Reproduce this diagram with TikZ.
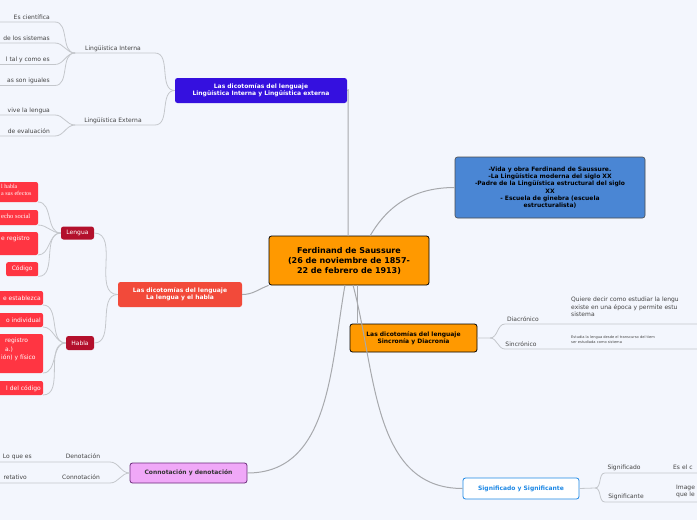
\documentclass[tikz,border=0pt]{standalone}
\usepackage{fontspec}
\setmainfont{DejaVu Sans}
\newfontfamily\serifsmall{Liberation Serif}
\definecolor{bg}{HTML}{F3F6FD}
\definecolor{ln}{HTML}{C4C7CC}
\definecolor{bluebox}{HTML}{3510DF}
\definecolor{redbox}{HTML}{F24A3A}
\definecolor{darkred}{HTML}{B3102C}
\definecolor{leafred}{HTML}{FF3542}
\definecolor{orangebox}{HTML}{FF9900}
\definecolor{skybox}{HTML}{4A86D4}
\definecolor{pinkbox}{HTML}{F0A8F8}
\definecolor{purpleln}{HTML}{6A2A7A}
\definecolor{sigblue}{HTML}{1E88E5}
\definecolor{txt}{HTML}{444444}
\begin{document}
\begin{tikzpicture}[x=1pt,y=-1pt,
  conn/.style={draw=ln,line width=0.8pt},
  mainconn/.style={draw=ln!85!black,line width=1pt},
  topicbox/.style={rounded corners=2.5pt,font=\bfseries\fontsize{6}{7}\selectfont,align=center,inner sep=0pt},
  branch/.style={font=\fontsize{6}{7}\selectfont,text=txt,inner sep=1pt,anchor=base},
  leafr/.style={font=\fontsize{6}{7}\selectfont,text=txt,inner sep=1pt,anchor=base east},
  redleaf/.style={fill=leafred,rounded corners=2pt,text=white,font=\fontsize{6}{7.5}\selectfont,inner sep=0pt,anchor=north west}
]
\useasboundingbox (0,0) rectangle (697,520);
\clip (0,0) rectangle (697,520);
\fill[bg] (0,0) rectangle (697,520);

% central
\node[topicbox,fill=orangebox,draw=black,line width=0.8pt,minimum width=160pt,minimum height=49pt,font=\bfseries\fontsize{8}{10}\selectfont] (c) at (349,260.5) {Ferdinand de Saussure\\(26 de noviembre de 1857-\\22 de febrero de 1913)};

% top-left blue
\node[topicbox,fill=bluebox,text=white,minimum width=172pt,minimum height=25pt] (t1) at (261,90.5) {Las dicotomías del lenguaje\\Lingüística Interna y Lingüística externa};
\draw[mainconn] (t1.east) -- (348,90) -- (348,236);

% Lingüística interna
\node[branch] (li) at (113,50.5) {Lingüística Interna};
\draw[conn] (75,53) -- (155,53) to[out=0,in=180] (t1.west);
\node[leafr] (l1) at (51,19) {Es científica};
\node[leafr] (l2) at (51,40) {de los sistemas};
\node[leafr] (l3) at (51,61.5) {l tal y como es};
\node[leafr] (l4) at (51,82.5) {as son iguales};
\foreach \y in {22,43,64.5,85.5}{\draw[conn] (0,\y) -- (55,\y) to[out=0,in=180] (75,53);}
% Lingüística externa
\node[branch] (le) at (113,122.5) {Lingüística Externa};
\draw[conn] (75,125) -- (155,125) to[out=0,in=180] (t1.west);
\node[leafr] (e1) at (51,112) {vive la lengua};
\node[leafr] (e2) at (51,133) {de evaluación};
\foreach \y in {115,136}{\draw[conn] (0,\y) -- (55,\y) to[out=0,in=180] (75,125);}

% red topic
\node[topicbox,fill=redbox,text=white,minimum width=124pt,minimum height=25pt] (t2) at (180,294.5) {Las dicotomías del lenguaje\\La lengua y el habla};
\draw[mainconn] (t2.east) to[out=0,in=200] (c.south west);
\node[topicbox,fill=darkred,text=white,font=\fontsize{6}{7}\selectfont,minimum width=33pt,minimum height=13pt] (lg) at (77.5,233) {Lengua};
\node[topicbox,fill=darkred,text=white,font=\fontsize{6}{7}\selectfont,minimum width=28pt,minimum height=14pt] (hb) at (80,343) {Habla};
\draw[conn] (lg.east) to[out=0,in=180] (t2.west);
\draw[conn] (hb.east) to[out=0,in=180] (t2.west);
\fill[leafred,rounded corners=2pt] (-5,182) rectangle (38,202);
\fill[leafred,rounded corners=2pt] (-5,210) rectangle (38,225);
\fill[leafred,rounded corners=2pt] (-5,232) rectangle (38,255);
\node[redleaf,minimum width=32pt,minimum height=14pt] (r4) at (6,262) {Código};
\node[font=\serifsmall\fontsize{6}{7}\selectfont,text=white,align=left,anchor=north west,inner sep=0pt] (r1) at (1,184.5) {l habla\\a sus efectos};
\node[font=\serifsmall\fontsize{6.5}{7}\selectfont,text=white,anchor=north west,inner sep=0pt] (r2) at (1,213.5) {echo social};
\node[font=\fontsize{6}{7}\selectfont,text=white,anchor=north west,inner sep=0pt] (r3) at (1,236) {e registro};
\foreach \y in {202,225,255}{\draw[conn] (38,\y) to[out=0,in=180] (lg.west);}
\draw[conn] (r4.south east) to[out=0,in=180] (lg.west);
\fill[leafred,rounded corners=2pt] (-5,291) rectangle (43,305);
\fill[leafred,rounded corners=2pt] (-5,313) rectangle (43,327);
\fill[leafred,rounded corners=2pt] (-5,334) rectangle (43,373);
\fill[leafred,rounded corners=2pt] (-5,381) rectangle (43,395);
\node[font=\fontsize{6}{7}\selectfont,text=white,anchor=base east,inner sep=0pt] (h1) at (41,300.5) {e establezca};
\node[font=\fontsize{6}{7}\selectfont,text=white,anchor=base east,inner sep=0pt] (h2) at (41,322.5) {o individual};
\node[font=\fontsize{6}{8.5}\selectfont,text=white,align=left,anchor=north west,inner sep=0pt] (h3) at (1,338) {\ \ registro\\\ \ a.)\\ión) y físico};
\node[font=\fontsize{6}{7}\selectfont,text=white,anchor=base east,inner sep=0pt] (h4) at (41,390.5) {l del código};
\foreach \y in {305,327,373,395}{\draw[conn] (43,\y) to[out=0,in=180] (hb.west);}

% right blue
\node[topicbox,fill=skybox,draw=black!70,line width=0.6pt,minimum width=190pt,minimum height=61pt,font=\bfseries\fontsize{6}{7.3}\selectfont] (t3) at (550,187.5) {-Vida y obra Ferdinand de Saussure.\\-La Lingüística moderna del siglo XX\\-Padre de la Lingüística estructural del siglo\\XX\\- Escuela de ginebra (escuela\\estructuralista)};
\draw[mainconn] (370,236) to[out=60,in=180] (t3.west);

% sincronía
\node[topicbox,fill=orangebox,draw=black,line width=0.8pt,minimum width=127pt,minimum height=28pt] (t4) at (413.5,338) {Las dicotomías del lenguaje\\Sincronía y Diacronía};
\draw[mainconn] (357,285) -- (357,324);
\node[branch] (dia) at (523,321.5) {Diacrónico};
\node[branch] (sin) at (521,346.5) {Sincrónico};
\draw[conn] (t4.east) -- (490,338) to[out=0,in=180] (505,324) -- (697,324);
\draw[conn] (490,338) to[out=0,in=180] (505,349) -- (697,349);
\node[font=\fontsize{6}{7.3}\selectfont,text=txt,align=left,anchor=north west,inner sep=0pt] (dt) at (571,297) {Quiere decir como estudiar la lengu\\existe en una época y permite estu\\sistema};
\node[font=\fontsize{3.6}{4.4}\selectfont,text=txt,align=left,anchor=north west,inner sep=0pt] (st) at (571,336) {Estudia la lengua desde el transcurso del tiem\\ser estudiada como sistema};

% connotación
\node[topicbox,fill=pinkbox,draw=purpleln,line width=0.8pt,text=black!80,minimum width=117pt,minimum height=20pt] (t5) at (188.5,473) {Connotación y denotación};
\draw[mainconn] (t5.east) to[out=0,in=260] (345,285);
\node[branch] (den) at (83,458.5) {Denotación};
\node[branch] (con) at (81,479.5) {Connotación};
\node[leafr] at (33,458.5) {Lo que es};
\node[leafr] at (28,479.5) {retativo};
\draw[conn] (0,462) -- (110,462) to[out=0,in=180] (t5.west);
\draw[conn] (0,483) -- (110,483) to[out=0,in=180] (t5.west);

% significado
\node[topicbox,fill=white,draw=sigblue,line width=0.8pt,text=sigblue,minimum width=116pt,minimum height=21pt] (t6) at (521,488.5) {Significado y Significante};
\draw[mainconn] (353,285) to[out=-75,in=180] (t6.west);
\node[branch] (sdo) at (624,469.5) {Significado};
\node[branch] (ste) at (626,498.5) {Significante};
\node[font=\fontsize{6}{7}\selectfont,text=txt,anchor=base west,inner sep=0pt] at (673,469.5) {Es el c};
\node[font=\fontsize{6}{7.3}\selectfont,text=txt,align=left,anchor=north west,inner sep=0pt] at (676,485) {Image\\que le};
\draw[conn] (t6.east) -- (595,488) to[out=0,in=180] (605,473) -- (697,473);
\draw[conn] (595,488) to[out=0,in=180] (605,502) -- (697,502);
\end{tikzpicture}
\end{document}
